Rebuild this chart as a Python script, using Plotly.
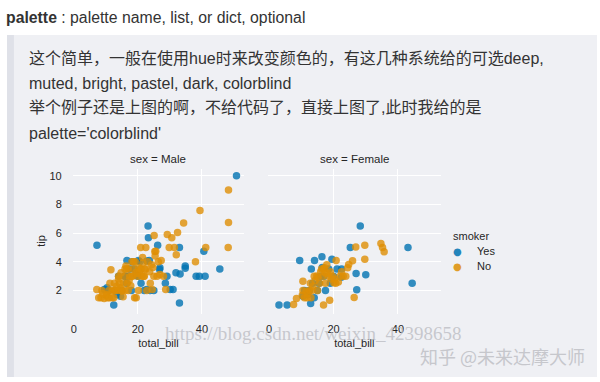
import plotly.graph_objects as go

# ---------------- data ----------------
x_ticks = [0, 20, 40]
y_ticks = [2, 4, 6, 8, 10]
panels = ["Male", "Female"]
hue_levels = ["Yes", "No"]

# (total_bill, tip)
male_yes = [
    (7.25, 5.15), (9.6, 2.07), (10.4, 2.2), (12.5, 1.0), (13.5, 1.72), (14.6, 1.6),
    (15.9, 3.0), (16.1, 3.0), (16.6, 4.09), (18.3, 4.0), (19.3, 3.07), (20.2, 4.09),
    (20.6, 4.0), (22.8, 4.05), (22.8, 2.07), (23.6, 4.09), (23.8, 2.0), (23.3, 5.67),
    (23.2, 6.5), (26.2, 5.16), (26.9, 3.58), (26.8, 3.46), (28.6, 2.5), (29.1, 3.0),
    (30.1, 2.07), (31.0, 2.07), (31.9, 3.23), (33.2, 3.16), (33.0, 5.0), (33.0, 1.14),
    (34.8, 3.7), (34.8, 3.55), (38.2, 3.0), (39.2, 3.0), (40.6, 4.74), (41.0, 3.0),
    (45.6, 3.5), (50.8, 10.0), (11.0, 2.0), (13.0, 2.0), (14.0, 3.0), (15.0, 2.0),
    (16.5, 2.5), (17.5, 3.5), (18.0, 2.0), (19.0, 3.5), (20.0, 3.0), (21.0, 2.5),
    (22.0, 2.0), (25.0, 2.0), (17.0, 3.0), (14.0, 2.0),
]
male_no = [
    (7.2, 2.07), (7.8, 1.5), (8.8, 2.0), (8.5, 1.5), (9.5, 1.45), (10.3, 1.66),
    (10.3, 1.71), (10.6, 1.5), (11.0, 2.0), (11.1, 1.5), (12.0, 2.0), (12.5, 1.5),
    (12.7, 2.0), (13.0, 2.0), (11.6, 3.45), (12.7, 2.5), (13.8, 2.0), (14.0, 3.0),
    (14.3, 2.5), (14.5, 2.2), (14.8, 3.23), (15.0, 1.96), (15.4, 1.57), (15.5, 2.5),
    (15.8, 3.0), (16.0, 2.0), (16.3, 3.71), (16.5, 3.5), (16.7, 2.5), (17.0, 3.5),
    (17.3, 2.7), (17.5, 3.0), (17.8, 2.34), (18.0, 3.0), (18.2, 4.0), (18.4, 3.0),
    (18.7, 3.5), (19.0, 1.5), (19.2, 4.0), (19.4, 3.25), (19.8, 3.18), (20.2, 2.0),
    (20.3, 3.6), (20.6, 3.35), (20.9, 3.5), (21.0, 3.5), (21.3, 3.0), (21.5, 4.3),
    (21.6, 3.92), (21.9, 3.0), (22.2, 3.48), (22.5, 3.5), (22.8, 2.0), (23.1, 4.0),
    (23.7, 3.31), (24.5, 2.07), (24.3, 3.8), (24.7, 3.6), (25.0, 3.0), (25.3, 4.71),
    (25.4, 4.4), (26.0, 3.0), (26.4, 4.0), (26.9, 3.12), (27.3, 4.09), (28.0, 3.0),
    (28.7, 2.07), (29.2, 5.9), (30.6, 5.67), (29.8, 5.0), (31.4, 5.0), (32.0, 4.5),
    (32.4, 6.05), (34.3, 6.7), (38.0, 4.0), (39.4, 7.58), (41.2, 5.0), (48.2, 5.0),
    (48.3, 6.73), (48.3, 9.0), (20.9, 5.0), (22.5, 5.0), (25.1, 5.83), (25.6, 4.74),
    (12.0, 1.5), (9.0, 1.8), (11.3, 2.5), (14.0, 2.8), (15.0, 2.0), (17.0, 2.0),
    (18.7, 4.0), (20.0, 3.0), (16.0, 3.5), (13.4, 2.3), (22.0, 3.0), (19.5, 1.5),
    (23.9, 2.5),
]
female_yes = [
    (3.07, 1.0), (5.6, 1.0), (9.5, 4.09), (13.1, 3.5), (14.1, 4.09), (16.4, 4.35),
    (19.5, 4.18), (21.1, 3.5), (22.5, 3.5), (22.4, 2.93), (27.0, 3.18), (30.0, 3.1),
    (27.2, 2.05), (28.3, 6.5), (25.2, 5.0), (43.1, 5.0), (44.4, 2.5), (12.9, 1.1),
    (11.0, 2.0), (12.0, 1.7), (13.5, 2.5), (15.0, 2.0), (16.0, 3.0), (17.0, 3.0),
    (18.5, 3.5), (14.0, 1.5), (10.5, 1.6), (19.0, 2.5), (15.5, 2.5), (12.5, 2.0),
    (17.5, 2.0), (20.0, 3.0), (16.5, 3.6),
]
female_no = [
    (7.6, 1.02), (8.5, 1.44), (10.5, 2.65), (10.3, 1.67), (10.5, 2.0), (11.0, 1.5),
    (11.5, 1.95), (12.0, 1.8), (12.5, 2.0), (12.8, 2.5), (13.0, 1.5), (13.3, 2.0),
    (13.6, 2.3), (14.0, 3.0), (14.3, 2.7), (14.8, 3.02), (15.0, 2.0), (15.2, 2.9),
    (15.7, 2.5), (16.0, 3.3), (16.3, 3.5), (16.7, 3.0), (17.0, 3.5), (17.2, 3.58),
    (17.5, 3.2), (17.9, 3.8), (18.2, 3.2), (18.5, 3.0), (18.8, 1.32), (16.9, 1.0),
    (19.0, 3.3), (19.3, 2.8), (19.7, 3.0), (20.1, 2.54), (20.3, 2.8), (20.7, 2.5),
    (20.8, 4.09), (21.5, 2.6), (22.0, 3.0), (22.5, 3.3), (23.0, 3.0), (23.8, 3.0),
    (24.4, 3.58), (24.7, 3.81), (25.9, 4.07), (26.4, 1.51), (26.9, 5.04), (29.7, 5.16),
    (29.7, 4.18), (34.7, 5.27), (35.2, 5.0), (35.7, 4.7), (17.5, 2.5), (11.8, 1.5),
]

series = {
    ("Male", "Yes"): male_yes,
    ("Male", "No"): male_no,
    ("Female", "Yes"): female_yes,
    ("Female", "No"): female_no,
}
colors = {"Yes": "#0173B2", "No": "#DE8F05"}

# ---------------- layout helpers (pixel -> paper) ----------------
W, H = 600, 382
def fx(p):
    return p / W
def fy(p):
    return 1 - p / H

TXT = "#262626"
FONT = "Liberation Sans, Arial, sans-serif"
CJK = "Liberation Sans, Noto Sans CJK SC, sans-serif"

fig = go.Figure()
axis_of = {"Male": ("x", "y"), "Female": ("x2", "y2")}
for panel in panels:
    for lvl in hue_levels:
        pts = series[(panel, lvl)]
        xa, ya = axis_of[panel]
        fig.add_trace(go.Scatter(
            x=[p[0] for p in pts], y=[p[1] for p in pts],
            mode="markers", name=lvl, legendgroup=lvl,
            showlegend=False,
            xaxis=xa, yaxis=ya,
            marker=dict(color=colors[lvl], size=7.5, opacity=0.8, line=dict(width=0)),
        ))

ydom = [fy(313.5), fy(168.5)]
common_x = dict(range=[-0.3, 53.2], tickvals=x_ticks, showgrid=True, gridcolor="white",
                gridwidth=1, zeroline=False, showline=False, ticks="",
                ticklabelstandoff=7,
                tickfont=dict(size=11, color=TXT, family=FONT),
                title=dict(text="total_bill", font=dict(size=11, color=TXT, family=FONT), standoff=5))
common_y = dict(range=[0.4, 10.5], tickvals=y_ticks, showgrid=True, gridcolor="white",
                gridwidth=1, zeroline=False, showline=False, ticks="", domain=ydom)

fig.update_layout(
    width=W, height=H,
    margin=dict(l=0, r=0, t=0, b=0),
    paper_bgcolor="white",
    plot_bgcolor="#e8e9ef",
    showlegend=False,
    xaxis=dict(domain=[fx(71), fx(243)], anchor="y", **common_x),
    xaxis2=dict(domain=[fx(267), fx(440)], anchor="y2", matches="x", **common_x),
    yaxis=dict(anchor="x", tickfont=dict(size=11, color=TXT, family=FONT),
               ticklabelstandoff=10,
               title=dict(text="tip", font=dict(size=11, color=TXT, family=FONT), standoff=1),
               **common_y),
    yaxis2=dict(anchor="x2", matches="y", showticklabels=False, **common_y),
    font=dict(family=FONT),
)

# blockquote background and its left bar
fig.add_shape(type="rect", xref="paper", yref="paper", x0=fx(5), x1=fx(597), y0=fy(377), y1=fy(35),
              fillcolor="#eff0f4", line=dict(width=0), layer="below")
fig.add_shape(type="rect", xref="paper", yref="paper", x0=fx(5), x1=fx(12), y0=fy(377), y1=fy(35),
              fillcolor="#dfe1e8", line=dict(width=0), layer="below")

def note(text, x, y, size, color="#333333", family=CJK, xanchor="left", **kw):
    fig.add_annotation(text=text, x=fx(x), y=fy(y), xref="paper", yref="paper",
                       xanchor=xanchor, yanchor="middle", showarrow=False,
                       font=dict(size=size, color=color, family=family), **kw)

note("<b>palette</b> : palette name, list, or dict, optional", 2, 17, 15.8)
note("这个简单，一般在使用hue时来改变颜色的，有这几种系统给的可选deep,", 25, 58, 16)
note("muted, bright, pastel, dark, colorblind", 25, 83, 16)
note("举个例子还是上图的啊，不给代码了，直接上图了,此时我给的是", 25, 108, 16)
note("palette='colorblind'", 25, 133, 16)

note("sex = Male", 157, 159, 11.5, color=TXT, family=FONT, xanchor="center")
note("sex = Female", 353.5, 159, 11.5, color=TXT, family=FONT, xanchor="center")

# hue legend (title, coloured dots, labels)
note("smoker", 450, 236, 11, color=TXT, family=FONT)
for i, lvl in enumerate(hue_levels):
    yy = 251 + 15 * i
    note("\u25CF", 457, yy, 10, color=colors[lvl], family="DejaVu Sans", xanchor="center", opacity=0.85)
    note(lvl, 475, yy, 11, color=TXT, family=FONT)

# watermarks
note("https://blog.csdn.net/weixin_42398658", 313, 333, 19, color="rgba(185,186,192,0.75)",
     family="Liberation Serif, serif", xanchor="center")
note("知乎 @未来达摩大师", 502, 356, 18, color="#c6c7cc", family="Noto Sans CJK SC", xanchor="center")

fig.write_html("out.html", config={"displayModeBar": False},
               post_script="document.body.style.margin='0';")
